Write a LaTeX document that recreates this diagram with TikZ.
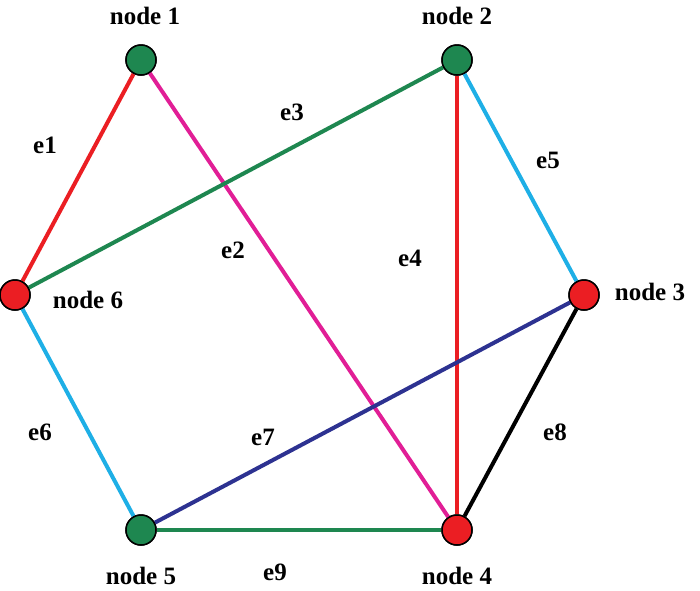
\documentclass[tikz,border=0pt]{standalone}
\usepackage{fontspec}
\setmainfont{Liberation Serif}
\definecolor{dotgreen}{RGB}{30,135,80}
\definecolor{dotred}{RGB}{235,30,35}
\definecolor{edgemag}{RGB}{225,30,150}
\definecolor{edgecyan}{RGB}{30,175,230}
\definecolor{edgenavy}{RGB}{45,50,145}
\begin{document}
\begin{tikzpicture}[x=1pt,y=-1pt,
  vert/.style={circle,draw=black,line width=1.5pt,minimum size=30pt,inner sep=0pt},
  lbl/.style={font=\fontsize{25}{28}\selectfont\bfseries},
  edge/.style={line width=4pt}]
\useasboundingbox (0,0) rectangle (700,590);
% Knoten
\node[vert,fill=dotgreen] (n1) at (141,60) {};
\node[vert,fill=dotgreen] (n2) at (457,60) {};
\node[vert,fill=dotred] (n3) at (584,295) {};
\node[vert,fill=dotred] (n4) at (457,530) {};
\node[vert,fill=dotgreen] (n5) at (141,530) {};
\node[vert,fill=dotred] (n6) at (15,295) {};
% Kanten
\draw[edge,dotred] (n1) -- (n6);
\draw[edge,edgemag] (n1) -- (n4);
\draw[edge,dotgreen] (n2) -- (n6);
\draw[edge,dotred] (n2) -- (n4);
\draw[edge,edgecyan] (n2) -- (n3);
\draw[edge,edgecyan] (n6) -- (n5);
\draw[edge,edgenavy] (n5) -- (n3);
\draw[edge,black] (n3) -- (n4);
\draw[edge,dotgreen] (n5) -- (n4);
% Knoten neu zeichnen (oben)
\foreach \n/\c in {n1/dotgreen,n2/dotgreen,n3/dotred,n4/dotred,n5/dotgreen,n6/dotred}
  \node[vert,fill=\c] at (\n) {};
% Beschriftungen
\node[lbl] (l1) at (145,16) {node 1};
\node[lbl] (l2) at (457,16) {node 2};
\node[lbl] (l3) at (650,292) {node 3};
\node[lbl] (l4) at (457,576) {node 4};
\node[lbl] (l5) at (141,576) {node 5};
\node[lbl] (l6) at (88,300) {node 6};
\node[lbl] (e1) at (45,145) {e1};
\node[lbl] (e2) at (233,250) {e2};
\node[lbl] (e3) at (292,112) {e3};
\node[lbl] (e4) at (410,258) {e4};
\node[lbl] (e5) at (548,160) {e5};
\node[lbl] (e6) at (40,432) {e6};
\node[lbl] (e7) at (263,437) {e7};
\node[lbl] (e8) at (555,432) {e8};
\node[lbl] (e9) at (275,572) {e9};
\end{tikzpicture}
\end{document}
